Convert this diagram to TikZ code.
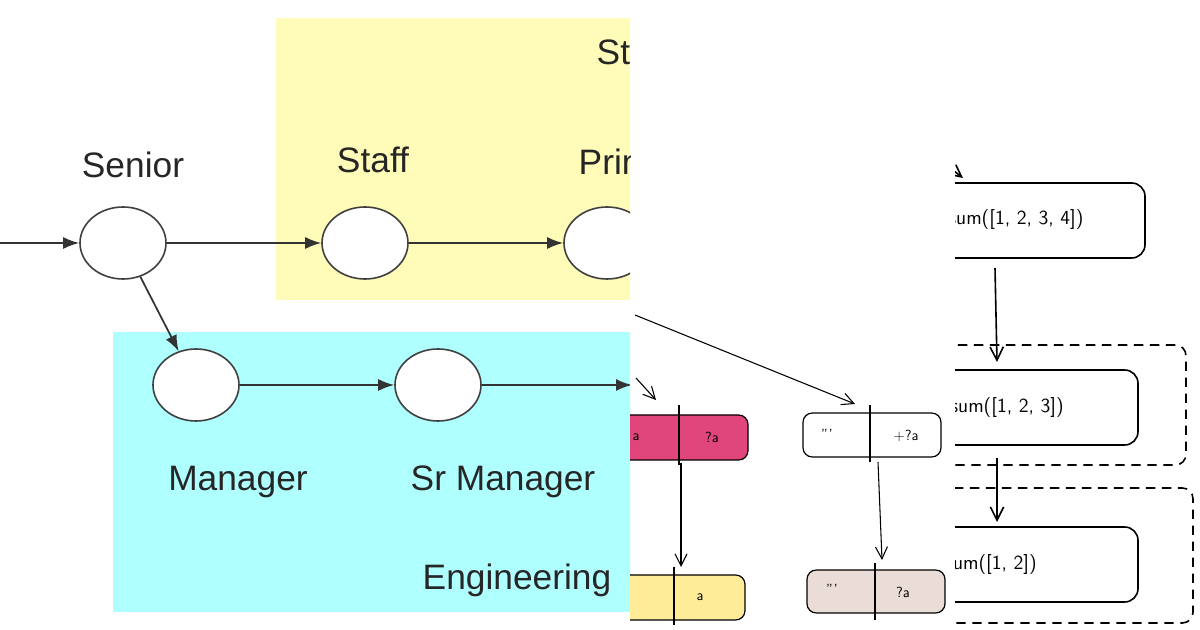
\documentclass[tikz,border=0pt]{standalone}
\usepackage{fontspec}
\setmainfont{Liberation Sans}
\usetikzlibrary{arrows.meta,shapes.geometric}
\definecolor{yel}{HTML}{FFFBB8}
\definecolor{cya}{HTML}{AFFFFF}
\definecolor{pink}{HTML}{E0457B}
\definecolor{ylw}{HTML}{FFEC99}
\definecolor{brn}{HTML}{EADDD7}
\tikzset{
 st/.style={draw=black!75,fill=white,ellipse,minimum width=64.5pt,minimum height=54pt,line width=1.2pt,inner sep=0},
 lbl/.style={font=\fontsize{26.5}{30}\selectfont,text=black!85},
 ar/.style={-{Latex[length=12pt,width=9pt]},line width=1.3pt,black!80},
 sk/.style={line width=0.9pt,rounded corners=7pt},
 skar/.style={-{Straight Barb[length=9pt,width=9pt]},line width=0.8pt},
 hand/.style={font=\sffamily\fontsize{11}{13}\selectfont},
 big/.style={font=\sffamily\fontsize{15}{17}\selectfont},
}
\begin{document}
\begin{tikzpicture}[x=0.75pt,y=-0.75pt]
\useasboundingbox (0,0) rectangle (1200,630);
\fill[white] (0,0) rectangle (1200,630);
% left panel
\begin{scope}
\clip (0,0) rectangle (630,630);
\fill[yel] (276,18) rectangle (640,300);
\fill[cya] (113,332) rectangle (640,612);
\node[lbl,anchor=west] (st) at (592,52) {Staff};
\node[lbl] (eng) at (517,580) {Engineering};
\node[st] (senior) at (123,243) {};
\node[st] (staff) at (365,243) {};
\node[st] (prin) at (607,243) {};
\node[st] (mgr) at (196,385) {};
\node[st] (srm) at (438,385) {};
\coordinate (in) at (0,243);
\coordinate (out) at (632,385);
\node[lbl] (l1) at (133,165) {Senior};
\node[lbl] (l2) at (373,160) {Staff};
\node[lbl,anchor=west] (l3) at (574,165) {Principal};
\node[lbl] (l4) at (238,482) {Manager};
\node[lbl] (l5) at (503,482) {Sr Manager};
\draw[ar] (in) -- (senior);
\draw[ar] (senior) -- (staff);
\draw[ar] (staff) -- (prin);
\draw[ar] (senior) -- (mgr);
\draw[ar] (mgr) -- (srm);
\draw[ar] (srm) -- (out);
\end{scope}
% middle panel
\begin{scope}
\clip (630,0) rectangle (955,630);
\coordinate (m0) at (635,315);
\coordinate (m1) at (636,378);
\draw[sk,fill=pink] (600,415) rectangle (748,460);
\draw[line width=0.9pt] (679,405) -- (679,465);
\node[hand] (pa) at (636,437) {a};
\node[hand] (pb) at (712,437) {?a};
\draw[sk] (803,413) rectangle (941,457);
\draw[line width=0.9pt] (870,405) -- (870,462);
\node[hand] (wa) at (827,434) {'''};
\node[hand] (wb) at (906,436) {+?a};
\draw[sk,fill=ylw] (600,575) rectangle (745,620);
\draw[line width=0.9pt] (674,567) -- (674,625);
\node[hand] (ya) at (700,597) {a};
\draw[sk,fill=brn] (807,570) rectangle (945,613);
\draw[line width=0.9pt] (875,563) -- (875,620);
\node[hand] (ba) at (832,589) {'''};
\node[hand] (bb) at (903,592) {?a};
\coordinate (pt) at (681,463);
\coordinate (ptt) at (681,567);
\coordinate (wt) at (878,462);
\coordinate (wtt) at (882,560);
\draw[skar] (m0) -- (855,404);
\draw[skar] (m1) -- (656,400);
\draw[skar] (pt) -- (ptt);
\draw[skar] (wt) -- (wtt);
\end{scope}
% right panel
\begin{scope}
\clip (955,0) rectangle (1200,630);
\draw[line width=1.2pt,rounded corners=10pt] (900,183) rectangle (1145,258);
\node[big,anchor=west] (r1) at (944,220) {sum([1, 2, 3, 4])};
\draw[dashed,line width=1.2pt,dash pattern=on 7pt off 5pt,rounded corners=8pt] (900,345) rectangle (1186,465);
\draw[line width=1.2pt,rounded corners=10pt] (900,370) rectangle (1138,445);
\node[big,anchor=west] (r2) at (946,408) {sum([1, 2, 3])};
\draw[dashed,line width=1.2pt,dash pattern=on 7pt off 5pt,rounded corners=8pt] (900,488) rectangle (1193,623);
\draw[line width=1.2pt,rounded corners=10pt] (900,527) rectangle (1138,602);
\node[big,anchor=west] (r3) at (931,565) {2sum([1, 2])};
\coordinate (a0) at (995,268);
\coordinate (a1) at (997,362);
\coordinate (a2) at (997,458);
\coordinate (a3) at (997,522);
\draw[-{Straight Barb[length=10pt,width=10pt]},line width=1.2pt] (a0) -- (a1);
\draw[-{Straight Barb[length=10pt,width=10pt]},line width=1.2pt] (a2) -- (a3);
\draw[-{Straight Barb[length=9pt,width=9pt]},line width=1.2pt] (940,160) -- (963,178);
\end{scope}
\end{tikzpicture}
\end{document}
